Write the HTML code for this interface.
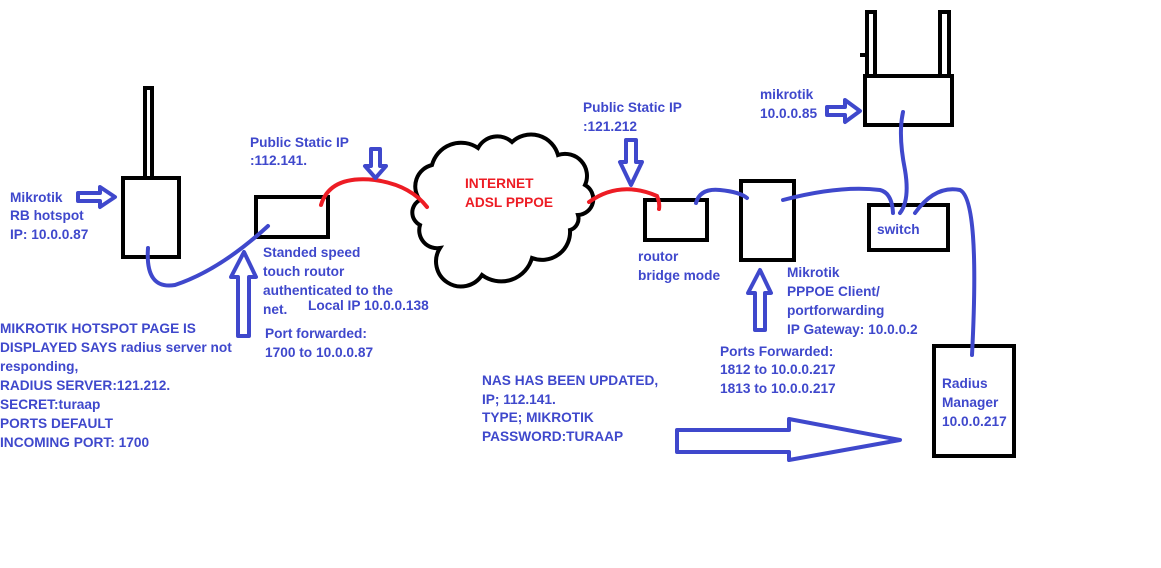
<!DOCTYPE html>
<html><head><style>
html,body{margin:0;padding:0;background:#fff;}
svg{display:block}
text{font-family:"Liberation Sans",sans-serif;font-weight:bold;font-size:13.7px;fill:#3f48cc}
</style></head><body>
<svg width="1161" height="568" viewBox="0 0 1161 568">
<g fill="none" stroke="#000" stroke-width="4">
<rect x="145" y="88" width="7" height="90"/>
<rect x="123" y="178" width="56" height="79"/>
<rect x="256" y="197" width="72" height="40"/>
<rect x="645" y="200" width="62" height="40"/>
<rect x="741" y="181" width="53" height="79"/>
<rect x="869" y="205" width="79" height="45"/>
<rect x="867" y="12" width="8" height="64"/>
<rect x="940" y="12" width="9" height="64"/>
<line x1="860" y1="55" x2="867" y2="55"/>
<rect x="865" y="76" width="87" height="49"/>
<rect x="934" y="346" width="80" height="110"/>
<path d="M420,200 A22,22 0 0 1 432,165 A30,30 0 0 1 478,148 A22,22 0 0 1 512,142 A28,28 0 0 1 558,155 A22,22 0 0 1 585,185 A16,16 0 0 1 578,215 A12,12 0 0 1 570,230 A28,28 0 0 1 532,258 A32,32 0 0 1 482,275 A24,24 0 0 1 440,248 A18,18 0 0 1 420,225 A14,14 0 0 1 420,200 Z" stroke-width="4"/>
</g>
<g fill="none" stroke="#ed1c24" stroke-width="4" stroke-linecap="round">
<path d="M321,205 Q330,175 375,180 Q410,185 427,207"/>
<path d="M589,202 Q620,180 657,196 Q660,203 659,209"/>
</g>
<g fill="none" stroke="#3f48cc" stroke-width="4" stroke-linecap="round">
<path d="M148,248 Q145,290 175,285 Q220,270 268,226"/>
<path d="M696,203 Q700,188 720,190 Q740,192 747,198"/>
<path d="M783,200 Q840,185 880,190 Q892,193 893,213"/>
<path d="M903,112 Q898,135 905,170 Q910,200 900,213"/>
<path d="M915,213 Q935,185 960,190 Q980,200 972,355"/>
</g>
<g fill="none" stroke="#3f48cc" stroke-width="4" stroke-linejoin="round">
<path d="M78,193 L100,193 L100,187 L115,197 L100,207 L100,201 L78,201 Z"/>
<path d="M827,107 L845,107 L845,100 L860,111 L845,122 L845,115 L827,115 Z"/>
<path d="M371,149 L380,149 L380,166 L386,166 L375.5,178 L365,166 L371,166 Z"/>
<path d="M626,140 L636,140 L636,162 L642,162 L631,185 L620,162 L626,162 Z"/>
<path d="M244,252 L256,277 L249,277 L249,336 L238,336 L238,277 L231,277 Z"/>
<path d="M760,270 L771,293 L765,293 L765,330 L755,330 L755,293 L748,293 Z"/>
<path d="M677,430 L789,430 L789,419 L900,440 L789,460 L789,452 L677,452 Z"/>
</g>
<text x="10" y="202">Mikrotik</text>
<text x="10" y="220">RB hotspot</text>
<text x="10" y="239">IP: 10.0.0.87</text>
<text x="250" y="147">Public Static IP</text>
<text x="250" y="165">:112.141.</text>
<text x="263" y="257">Standed speed</text>
<text x="263" y="276">touch routor</text>
<text x="263" y="295">authenticated to the</text>
<text x="263" y="314">net.</text>
<text x="308" y="310">Local IP 10.0.0.138</text>
<text x="265" y="338">Port forwarded:</text>
<text x="265" y="357">1700 to 10.0.0.87</text>
<text x="0" y="333">MIKROTIK HOTSPOT PAGE IS</text>
<text x="0" y="352">DISPLAYED SAYS radius server not</text>
<text x="0" y="371">responding,</text>
<text x="0" y="390">RADIUS SERVER:121.212.</text>
<text x="0" y="409">SECRET:turaap</text>
<text x="0" y="428">PORTS DEFAULT</text>
<text x="0" y="447">INCOMING PORT: 1700</text>
<text x="465" y="188" style="fill:#ed1c24">INTERNET</text>
<text x="465" y="207" style="fill:#ed1c24">ADSL PPPOE</text>
<text x="583" y="112">Public Static IP</text>
<text x="583" y="131">:121.212</text>
<text x="638" y="261">routor</text>
<text x="638" y="280">bridge mode</text>
<text x="760" y="99">mikrotik</text>
<text x="760" y="118">10.0.0.85</text>
<text x="877" y="234">switch</text>
<text x="787" y="277">Mikrotik</text>
<text x="787" y="296">PPPOE Client/</text>
<text x="787" y="315">portforwarding</text>
<text x="787" y="334">IP Gateway: 10.0.0.2</text>
<text x="720" y="356">Ports Forwarded:</text>
<text x="720" y="374">1812 to 10.0.0.217</text>
<text x="720" y="393">1813 to 10.0.0.217</text>
<text x="482" y="385">NAS HAS BEEN UPDATED,</text>
<text x="482" y="404">IP; 112.141.</text>
<text x="482" y="422">TYPE; MIKROTIK</text>
<text x="482" y="441">PASSWORD:TURAAP</text>
<text x="942" y="388">Radius</text>
<text x="942" y="407">Manager</text>
<text x="942" y="426">10.0.0.217</text>
</svg>
</body></html>
